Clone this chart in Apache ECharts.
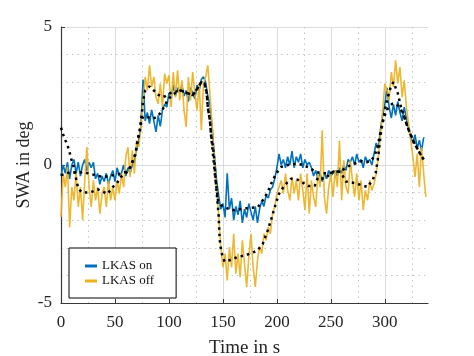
<!DOCTYPE html>
<html><head><meta charset="utf-8">
<script src="https://cdn.jsdelivr.net/npm/echarts@6/dist/echarts.min.js"></script>
<style>html,body{margin:0;padding:0;background:#fff}#c{width:474px;height:356px}</style>
</head><body><div id="c"></div>
<script>
// sample times of the two measured series: every 2 s starting at 0
const sampleStep = 2;

// LKAS on (blue), SWA in deg
const lkasOn = [
  -0.4, 0.0, -0.3, 0.1, -0.5, 0.0, 0.2, -0.3, 0.1, -0.4,
  0.0, 0.2, -0.2, 0.1, -0.1, 0.1, -0.5, -0.3, -0.7, -0.4,
  -0.6, -0.3, -0.7, -0.4, -0.2, -0.6, -0.1, -0.4, -0.3, 0.0,
  -0.4, -0.1, -0.3, 0.0, 0.1, 0.6, 0.9, 1.4, 3.1, 1.6,
  1.9, 1.5, 2.0, 1.6, 1.2, 1.8, 1.4, 2.0, 2.2, 2.1,
  2.6, 2.4, 2.9, 2.5, 2.8, 2.6, 2.9, 2.5, 2.7, 2.3,
  2.8, 2.6, 2.4, 2.9, 2.7, 3.1, 3.2, 3.0, 2.5, 2.2,
  1.4, 0.4, -0.5, -1.1, -1.6, -1.4, -1.9, -0.3, -1.6, -1.2,
  -2.0, -1.5, -1.8, -1.3, -2.1, -1.6, -1.9, -1.4, -1.7, -2.0,
  -1.5, -2.1, -1.6, -1.3, -1.5, -1.1, -1.2, -0.9, -0.8, -0.5,
  -0.1, 0.4, 0.0, 0.2, -0.1, 0.3, 0.0, 0.5, -0.1, 0.3,
  0.1, 0.4, -0.1, 0.2, 0.0, 0.1, -0.1, -0.4, -0.2, -0.5,
  -0.3, -0.6, -0.3, -0.5, -0.2, -0.4, -0.3, -0.2, -0.4, -0.1,
  -0.3, 0.0, -0.2, 0.2, 0.1, 0.3, 0.0, 0.4, 0.1, 0.2,
  -0.1, 0.3, 0.1, 0.2, 0.0, 0.4, 0.8, 0.6, 1.3, 1.8,
  2.2, 2.8, 2.1, 1.7, 2.2, 1.8, 2.3, 1.9, 1.6, 2.1,
  1.7, 1.3, 1.0, 0.8, 1.1, 0.6, 0.9, 0.5, 1.0
];

// LKAS off (yellow), SWA in deg
const lkasOff = [
  -1.88, -0.31, -0.8, -0.07, -2.25, -0.8, -1.28, -0.31, -1.52, -0.8,
  -2.0, -0.56, 0.65, -0.8, -1.52, -0.56, -1.28, -0.8, -1.76, -1.04,
  -0.8, -1.52, -0.56, -1.28, -0.8, -1.28, -0.56, -1.04, -0.31, -0.8,
  0.29, 0.65, -0.43, 0.53, -0.31, 0.89, 0.65, 1.38, 2.34, 3.19,
  2.7, 3.61, 2.83, 3.19, 2.46, 2.22, 2.95, 2.1, 3.31, 2.95,
  3.25, 2.1, 3.37, 2.46, 3.43, 2.34, 3.07, 1.98, 1.38, 3.19,
  2.34, 3.37, 2.58, 1.98, 2.95, 1.26, 2.95, 3.19, 3.61, 2.58,
  1.38, 0.17, -0.8, -1.76, -2.97, -3.7, -3.21, -4.18, -2.97, -3.7,
  -2.49, -3.94, -3.21, -4.06, -2.73, -3.57, -4.42, -3.33, -2.49, -3.7,
  -4.42, -3.45, -2.97, -3.21, -2.49, -2.73, -2.25, -2.49, -1.76, -1.52,
  -1.04, -0.8, -0.56, -1.04, -0.31, -0.92, -1.28, -0.43, -1.04, -0.56,
  -1.28, -0.31, -0.92, -1.64, -0.31, -1.76, -0.56, -1.16, -1.52, -0.31,
  -0.8, 1.26, -1.16, -1.76, -0.8, -0.31, -1.16, -0.19, -0.8, 0.89,
  -1.28, 0.17, -0.8, -1.04, 0.17, -0.56, -1.16, -0.31, -1.28, -0.56,
  -1.64, -0.92, -1.28, -0.56, -0.92, -0.68, -0.31, 0.29, 1.14, 1.98,
  2.95, 2.7, 2.34, 3.37, 2.83, 3.79, 2.95, 3.55, 2.46, 3.07,
  2.1, 1.5, 0.89, 0.29, -0.43, 0.41, -0.8, 0.65, -0.31, -1.16
];

// black dotted reference curves [time s, SWA deg]
const refOn = [
  [0,-0.37],[5,-0.3],[10,-0.25],[15,-0.3],[20,-0.25],[25,-0.3],[30,-0.35],[35,-0.4],[40,-0.43],
  [45,-0.4],[50,-0.35],[55,-0.32],[60,-0.25],[63,-0.15],[66,0.1],[69,0.4],[71,0.9],[73,1.2],
  [74.6,1.6],[76,1.75],[80,1.74],[85,1.68],[89,1.75],[93,1.92],[96,2.16],[99,2.35],[103,2.55],
  [111,2.7],[116,2.62],[122,2.53],[126,2.75],[130,3.0],[133,2.95],[135,2.6],[136,2.1],[138,1.6],
  [139,1.1],[141,0.3],[142,-0.1],[143,-0.5],[144,-0.8],[145.5,-1.28],[148.5,-1.46],[154.6,-1.58],
  [160.8,-1.64],[166,-1.6],[171.6,-1.57],[177,-1.55],[182.4,-1.52],[187,-1.28],[191.6,-0.98],
  [194.7,-0.68],[199.3,-0.31],[204,-0.07],[210,0.0],[219,0.05],[224,0.0],[230,-0.1],[236,-0.25],
  [242,-0.3],[248,-0.3],[254,-0.25],[260,-0.2],[266,-0.05],[272,0.05],[279,0.14],[283,0.1],
  [287,0.15],[290,0.3],[292,0.5],[294,0.8],[296,1.2],[298,1.55],[300,1.8],[302,2.0],[305,2.15],
  [307,2.22],[311,2.2],[315,2.0],[318,1.74],[321,1.38],[324,1.1],[327,0.83],[330,0.6],[333.5,0.35],[336,0.2]
];
const refOff = [
  [0,1.35],[2,1.1],[4,0.9],[6,0.72],[8,0.45],[10,0.15],[12,-0.1],[14,-0.5],[16,-0.85],[19,-0.98],
  [22,-1.0],[26,-1.0],[30,-0.95],[34,-0.88],[38,-0.95],[43,-1.05],[48,-0.8],[52,-0.65],[55,-0.45],
  [59,-0.32],[63,-0.2],[66,0.1],[69,0.4],[71,0.9],[73,1.3],[75,1.9],[76,2.3],[78,2.7],[82,2.85],
  [86,2.7],[90,2.55],[94,2.46],[97,2.5],[101,2.6],[105,2.65],[111,2.7],[116,2.62],[122,2.53],
  [126,2.75],[130,3.0],[133,2.95],[135,2.6],[136,2.1],[138,1.6],[139,1.1],[141,0.6],[142,0.2],
  [143,-0.4],[144,-0.9],[146,-1.8],[147,-2.7],[148.5,-3.15],[151.5,-3.5],[156,-3.45],[164,-3.33],
  [170,-3.28],[176,-3.2],[182,-3.1],[187,-2.85],[191.5,-2.37],[194.5,-2.0],[199,-1.4],[202,-1.04],
  [207,-0.74],[213,-0.5],[219,-0.53],[224,-0.64],[229,-0.76],[235,-0.76],[238,-0.45],[244,-0.5],
  [253,-0.22],[259,-0.25],[264,-0.6],[273,-0.66],[279,-0.74],[284,-0.8],[288.5,-0.55],[291.5,-0.3],
  [293.5,0.2],[295,0.7],[296.5,1.2],[298,1.55],[300,1.95],[302,2.35],[305.5,2.83],[308,3.0],
  [312,2.6],[315,2.1],[318,1.74],[321,1.38],[324,1.1],[327,0.83],[330,0.6],[333.5,0.35],[336,0.2]
];

const seriesNames = ['LKAS on', 'LKAS off'];
const xMin = 0, xMax = 340, xMajor = 50, xMinor = 25;
const yMin = -5, yMax = 5, yMajor = 5;

const serif = '"Liberation Serif", "DejaVu Serif", serif';
const toPairs = arr => arr.map((v, i) => [i * sampleStep, v]);

const chart = echarts.init(document.getElementById('c'), null, {renderer: 'canvas'});
chart.setOption({
  animation: false,
  backgroundColor: '#fff',
  grid: {left: 61, top: 27, width: 367, height: 276, containLabel: false, outerBoundsMode: 'none'},
  legend: {
    data: seriesNames,
    orient: 'vertical',
    left: 69, top: 248,
    padding: [11, 22, 10, 16],
    itemWidth: 12, itemHeight: 3, itemGap: 1,
    icon: 'rect',
    borderColor: '#000', borderWidth: 1,
    backgroundColor: '#fff',
    textStyle: {fontFamily: serif, fontSize: 13, color: '#111', lineHeight: 14},
    selectedMode: false
  },
  xAxis: [{
    type: 'value', min: xMin, max: xMax, interval: xMajor,
    name: 'Time in s', nameLocation: 'middle', nameGap: 36, nameMoveOverlap: false,
    nameTextStyle: {fontFamily: serif, fontSize: 19, color: '#262626'},
    axisLine: {show: true, onZero: false, lineStyle: {color: '#3a3a3a', width: 1.2}},
    axisTick: {show: true, inside: true, length: 4, lineStyle: {color: '#3a3a3a'}},
    axisLabel: {fontFamily: serif, fontSize: 17, color: '#262626', margin: 11, showMaxLabel: false},
    splitLine: {show: true, showMaxLine: false, lineStyle: {color: '#dcdcdc', width: 1}}
  }, {
    type: 'value', min: xMin, max: xMax, interval: xMinor, position: 'bottom',
    axisLine: {show: false}, axisTick: {show: false}, axisLabel: {show: false},
    splitLine: {show: true, showMaxLine: false,
      lineStyle: {color: ['rgba(0,0,0,0)', '#c6c6c6'], type: [1.5, 4], width: 1}}
  }],
  yAxis: [{
    type: 'value', min: yMin, max: yMax, interval: yMajor,
    name: 'SWA in deg', nameLocation: 'middle', nameGap: 28, nameMoveOverlap: false,
    nameTextStyle: {fontFamily: serif, fontSize: 18, color: '#262626'},
    axisLine: {show: true, onZero: false, lineStyle: {color: '#3a3a3a', width: 1.2}},
    axisTick: {show: true, inside: true, length: 4, lineStyle: {color: '#3a3a3a'}},
    axisLabel: {fontFamily: serif, fontSize: 17, color: '#262626', margin: 9},
    splitLine: {show: true, lineStyle: {color: '#dcdcdc', width: 1}},
    minorTick: {show: false, splitNumber: 5},
    minorSplitLine: {show: true, lineStyle: {color: '#c6c6c6', type: [1.5, 4], width: 1}}
  }],
  series: [
    {name: seriesNames[0], type: 'line', data: toPairs(lkasOn), showSymbol: false,
     lineStyle: {color: '#0072BD', width: 1.6}, itemStyle: {color: '#0072BD'}, z: 3},
    {name: seriesNames[1], type: 'line', data: toPairs(lkasOff), showSymbol: false,
     lineStyle: {color: '#EDB120', width: 1.6, opacity: 0.92}, itemStyle: {color: '#EDB120'}, z: 4},
    {name: 'ref on', type: 'line', data: refOn, showSymbol: false, silent: true,
     lineStyle: {color: '#000', width: 2.5, type: [2.5, 4]}, z: 5},
    {name: 'ref off', type: 'line', data: refOff, showSymbol: false, silent: true,
     lineStyle: {color: '#000', width: 2.5, type: [2.5, 4]}, z: 5}
  ]
});
</script>
</body></html>
